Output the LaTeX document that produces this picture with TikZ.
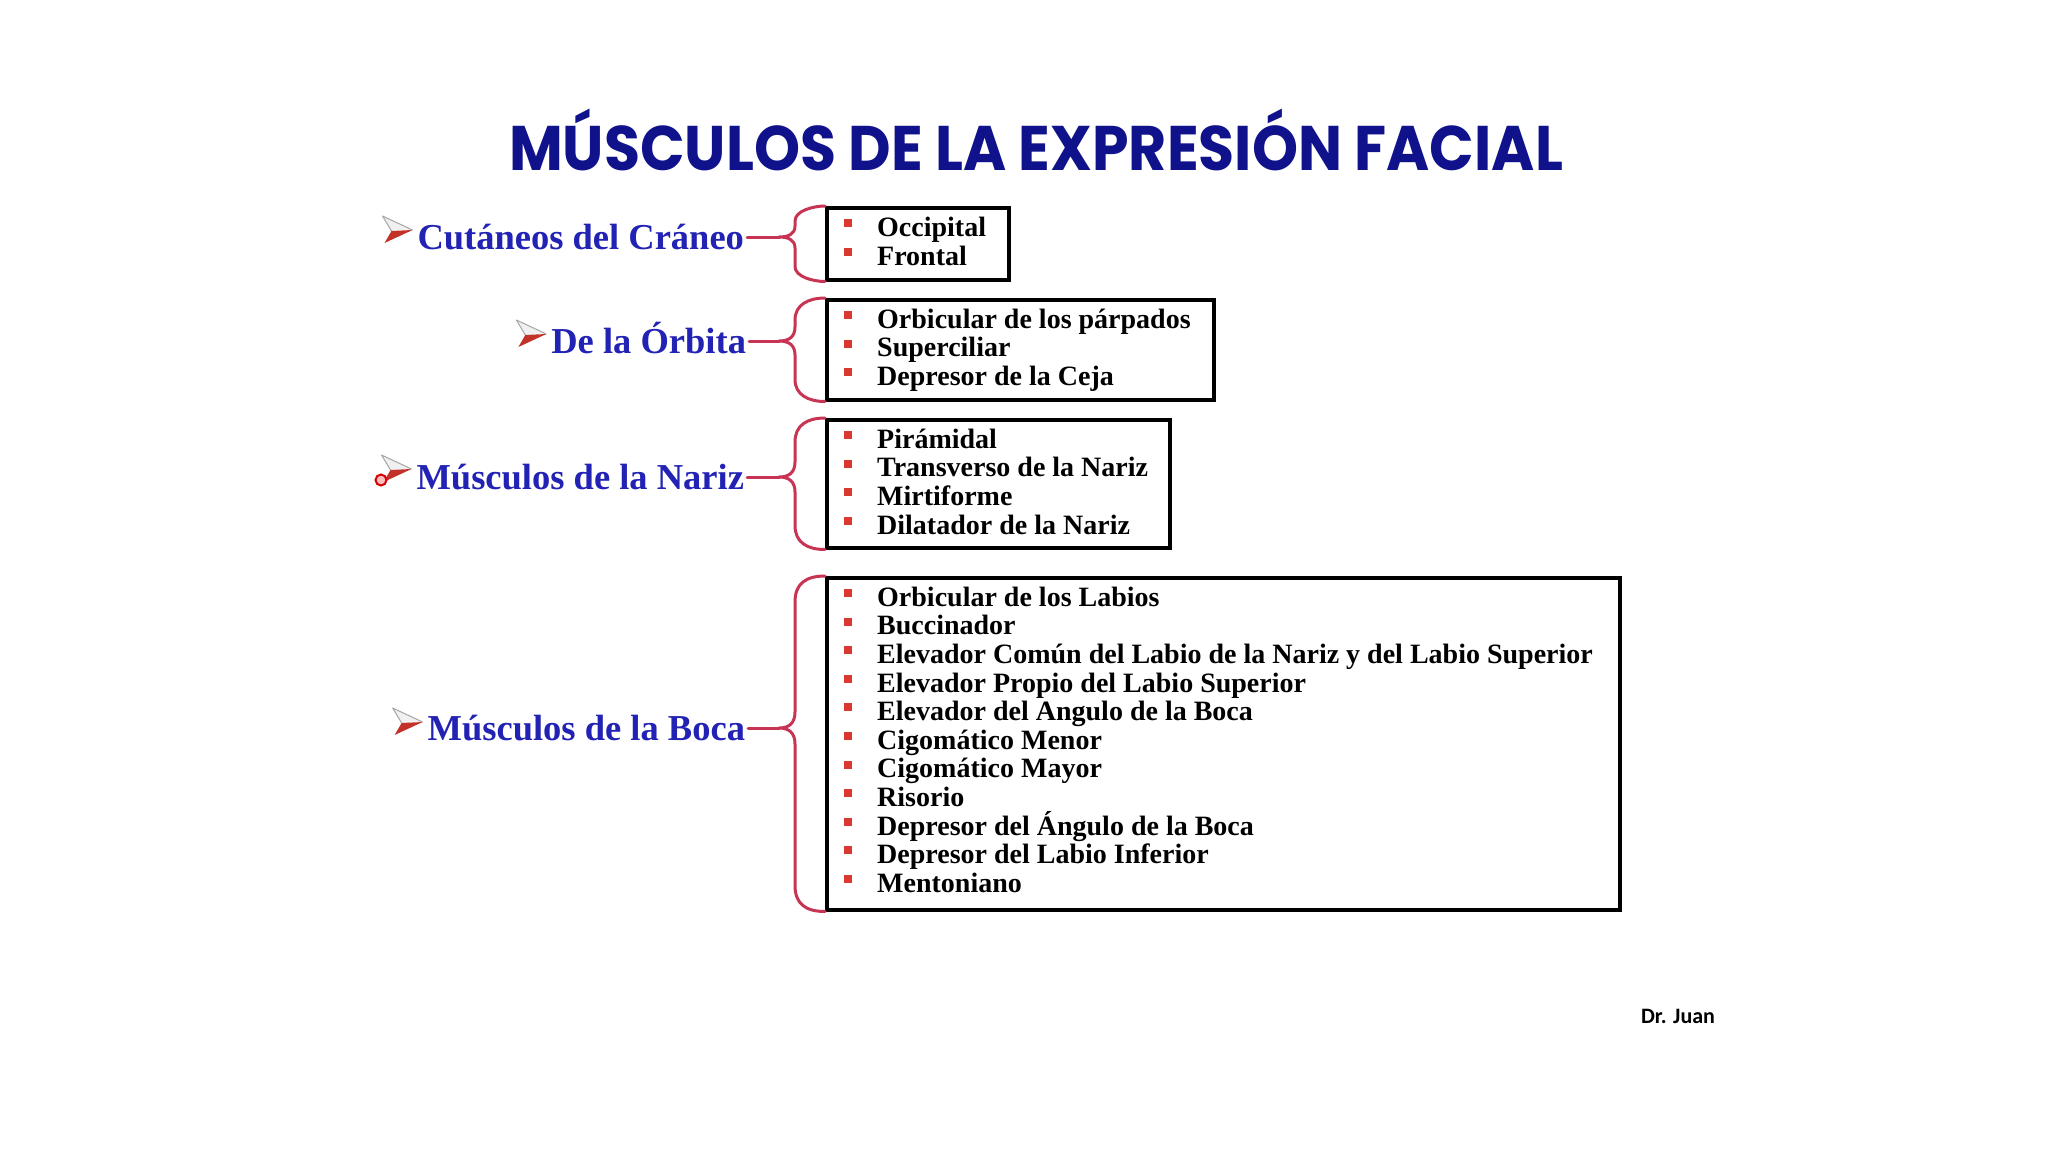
\documentclass[tikz,border=0pt]{standalone}
\usepackage{fontspec}
\setmainfont{Liberation Serif}
\newfontfamily\titlefont{Poppins}
\newfontfamily\sigfont{Carlito}
\usetikzlibrary{calc}
\definecolor{titleblue}{RGB}{16,18,140}
\definecolor{labblue}{RGB}{34,34,180}
\definecolor{bracered}{RGB}{200,52,84}
\definecolor{bulred}{RGB}{216,56,46}
\tikzset{
  titlesty/.style={inner sep=0pt, text height=44pt, text depth=0pt, text=titleblue,
    font=\titlefont\bfseries\fontsize{63}{63}\selectfont},
  labsty/.style={anchor=east, inner sep=0pt, outer sep=3pt, text height=24pt, text depth=0pt, text=labblue,
    font=\bfseries\fontsize{36.5}{40}\selectfont},
  itemsty/.style={anchor=west, inner sep=0pt, text height=18.5pt, text depth=0pt, text=black,
    font=\bfseries\fontsize{28}{30}\selectfont},
  bulsty/.style={anchor=center, inner sep=0pt, minimum size=8pt, fill=bulred},
  boxsty/.style={draw=black, line width=3.5pt, anchor=north west, inner sep=0pt},
  bracesty/.style={draw=bracered, line width=3pt, line cap=round, line join=round},
  arrowicon/.pic={
    \fill[gray!12] (0,-14) -- (30,0) -- (9,1) -- cycle;
    \draw[gray!70, line width=1pt, line join=round] (9,1) -- (0,-14) -- (30,0);
    \fill[bulred!90!black] (9,1) -- (30,0) -- (2,13) -- cycle;
  }
}
% #1 box, #2 tip coordinate, #3 corner radius, #4 tip radius
\newcommand\mybrace[4]{%
  \draw[bracesty] (#1.north west) .. controls +(-0.75*#3,0) and +(0,-0.7*#3) .. ($(#1.north west)+(-30,#3)$)
    -- ($(#2)+(16,-#4)$) .. controls +(0,0.7*#4) and +(10,0) .. (#2)
    .. controls +(10,0) and +(0,-0.7*#4) .. ($(#2)+(16,#4)$)
    -- ($(#1.south west)+(-30,-#3)$) .. controls +(0,0.7*#3) and +(-0.75*#3,0) .. (#1.south west);
}
\begin{document}
\begin{tikzpicture}[x=1pt,y=-1pt]
\useasboundingbox (0,0) rectangle (2048,1152);
\fill[white] (0,0) rectangle (2048,1152);

\node[titlesty] (title) at (1036,148) {\scalebox{0.93}[1]{MÚSCULOS DE LA EXPRESIÓN FACIAL}};

% boxes
\node[boxsty, minimum width=182pt, minimum height=72pt] (b1) at (825,206) {};
\node[boxsty, minimum width=387pt, minimum height=100pt] (b2) at (825,298) {};
\node[boxsty, minimum width=343pt, minimum height=128pt] (b3) at (825,418) {};
\node[boxsty, minimum width=793pt, minimum height=332pt] (b4) at (825,576) {};

% labels
\node[labsty] (l1) at (747,237) {Cutáneos del Cráneo};
\node[labsty] (l2) at (749,341) {De la Órbita};
\node[labsty] (l3) at (747,477) {Músculos de la Nariz};
\node[labsty] (l4) at (748,728) {Músculos de la Boca};

% arrow icons
\path (l1.west) ++(-32,-7) pic {arrowicon};
\path (l2.west) ++(-32,-7) pic {arrowicon};
\path (l3.west) ++(-32,-8) pic {arrowicon};
\path (l4.west) ++(-32,-6) pic {arrowicon};
\node[circle, draw=red!85!black, fill=red!25, line width=2pt, minimum size=11pt, inner sep=0pt] (cursor) at (381,480) {};

% brace tips
\coordinate (t1) at (779,237);
\coordinate (t2) at (779,341);
\coordinate (t3) at (779,477);
\coordinate (t4) at (779,728);
\mybrace{b1}{t1}{15}{11}
\mybrace{b2}{t2}{22}{14}
\mybrace{b3}{t3}{24}{15}
\mybrace{b4}{t4}{26}{16}
\draw[bracesty] (l1.east) -- (t1);
\draw[bracesty] (l2.east) -- (t2);
\draw[bracesty] (l3.east) -- (t3);
\draw[bracesty] (l4.east) -- (t4);

% items
\foreach \t [count=\i] in {Occipital, Frontal} {
  \node[itemsty] (i1\i) at (877,{227+29*(\i-1)}) {\t};
  \node[bulsty] (p1\i) at (848,{223+29*(\i-1)}) {};
}
\foreach \t [count=\i] in {Orbicular de los párpados, Superciliar, Depresor de la Ceja} {
  \node[itemsty] (i2\i) at (877,{319+28.6*(\i-1)}) {\t};
  \node[bulsty] (p2\i) at (848,{315+28.6*(\i-1)}) {};
}
\foreach \t [count=\i] in {Pirámidal, Transverso de la Nariz, Mirtiforme, Dilatador de la Nariz} {
  \node[itemsty] (i3\i) at (877,{439+28.6*(\i-1)}) {\t};
  \node[bulsty] (p3\i) at (848,{435+28.6*(\i-1)}) {};
}
\foreach \t [count=\i] in {Orbicular de los Labios, Buccinador, Elevador Común del Labio de la Nariz y del Labio Superior, Elevador Propio del Labio Superior, Elevador del Angulo de la Boca, Cigomático Menor, Cigomático Mayor, Risorio, Depresor del Ángulo de la Boca, Depresor del Labio Inferior, Mentoniano} {
  \node[itemsty] (i4\i) at (877,{597+28.6*(\i-1)}) {\t};
  \node[bulsty] (p4\i) at (848,{593+28.6*(\i-1)}) {};
}

\node[inner sep=0pt, font=\sigfont\bfseries\fontsize{22}{24}\selectfont] (sig) at (1678,1016) {Dr. Juan};
\end{tikzpicture}
\end{document}
